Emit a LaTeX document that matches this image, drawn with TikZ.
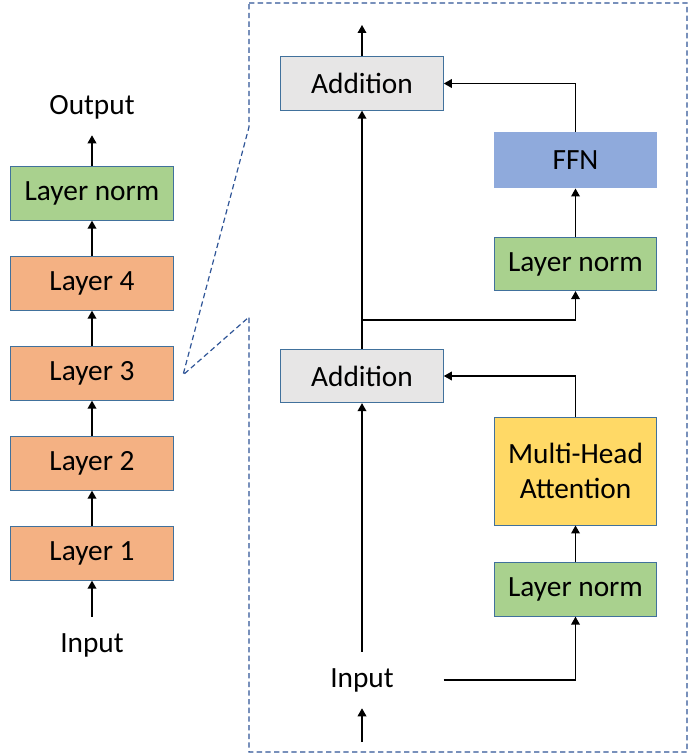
\documentclass[tikz,border=0pt]{standalone}
\usepackage{fontspec}
\setmainfont{Carlito}
\usetikzlibrary{arrows.meta}
\definecolor{boxline}{HTML}{41719C}
\definecolor{layerfill}{HTML}{F4B183}
\definecolor{normfill}{HTML}{A9D18E}
\definecolor{addfill}{HTML}{E7E6E6}
\definecolor{ffnfill}{HTML}{8FAADC}
\definecolor{attfill}{HTML}{FFD966}
\definecolor{zoomblue}{HTML}{2F5597}
\tikzset{
  block/.style={draw=boxline, line width=0.7pt, minimum width=122pt, minimum height=40pt,
    inner sep=0pt, font=\fontsize{22}{26}\selectfont},
  plain/.style={minimum width=122pt, minimum height=42pt, inner sep=0pt,
    font=\fontsize{22}{26}\selectfont},
  arr/.style={line width=1pt, -{Triangle[length=6pt,width=6.5pt]}},
  zoomline/.style={zoomblue, line width=0.9pt, dash pattern=on 4pt off 2.5pt}
}
\begin{document}
\begin{tikzpicture}[x=0.75pt,y=-0.75pt]
  \useasboundingbox (0,0) rectangle (690,756);
  % left: the stack
  \node[block,fill=layerfill] (lone) at (92,553.5) {Layer 1};
  \node[block,fill=layerfill] (ltwo) at (92,463.5) {Layer 2};
  \node[block,fill=layerfill] (lthree) at (92,373.5) {Layer 3};
  \node[block,fill=layerfill] (lfour) at (92,283.5) {Layer 4};
  \node[block,fill=normfill] (lnorm) at (92,193.5) {Layer norm};
  \node[plain] (lout) at (92,107) {Output};
  \node[plain] (lin) at (92,645) {Input};
  \draw[arr] (lin) -- (lone);
  \draw[arr] (lone) -- (ltwo);
  \draw[arr] (ltwo) -- (lthree);
  \draw[arr] (lthree) -- (lfour);
  \draw[arr] (lfour) -- (lnorm);
  \draw[arr] (lnorm) -- (lout);
  % zoomed frame
  \draw[zoomline] (249,3) -- (687,3) -- (687,752) -- (249,752) -- (249,317)
    -- (183,375) -- (249,127) -- cycle;
  % right: inside one layer
  \node[block,fill=addfill] (addtop) at (362,83.5) {Addition};
  \node[block,fill=addfill] (addbot) at (362,376) {Addition};
  \node[block,draw=none,fill=ffnfill,minimum height=42pt] (ffn) at (575.5,160) {FFN};
  \node[block,fill=normfill] (normtop) at (575.5,264) {Layer norm};
  \node[block,fill=attfill,minimum height=81pt,align=center] (mha) at (575.5,471)
    {Multi-Head\\Attention};
  \node[block,fill=normfill] (normbot) at (575.5,589.5) {Layer norm};
  \node[plain] (inp) at (362,680) {Input};
  \coordinate (rtop) at (362,25);
  \coordinate (split) at (362,320);
  \coordinate (feed) at (362,742);
  \draw[arr] (feed) -- (inp.south);
  \draw[arr] (inp.north) -- (addbot.south);
  \draw[arr] (inp.east) -| (normbot.south);
  \draw[arr] (normbot) -- (mha);
  \draw[arr] (mha.north) |- (addbot.east);
  \draw[arr] (addbot.north) -- (addtop.south);
  \draw[arr] (split) -| (normtop.south);
  \draw[arr] (normtop) -- (ffn);
  \draw[arr] (ffn.north) |- (addtop.east);
  \draw[arr] (addtop) -- (rtop);
\end{tikzpicture}
\end{document}
